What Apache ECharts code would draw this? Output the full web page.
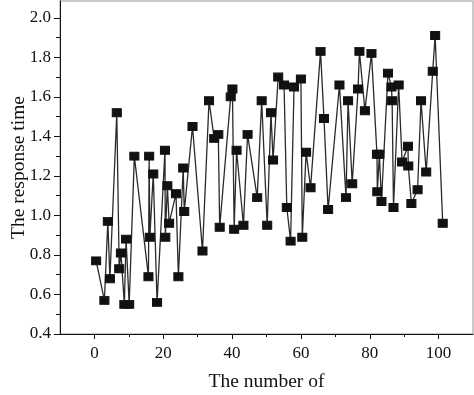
<!DOCTYPE html>
<html><head><meta charset="utf-8">
<script src="https://cdn.jsdelivr.net/npm/echarts@6/dist/echarts.min.js"></script>
<style>html,body{margin:0;padding:0;background:#fff}#c{width:474px;height:395px}</style>
</head><body><div id="c"></div>
<script>
const xPos = [0.5, 2.9, 3.9, 4.5, 6.5, 7.2, 7.7, 8.7, 9.2, 10.1,
  11.6, 15.7, 15.9, 16.1, 17.1, 18.2, 20.5, 20.6, 21.2, 21.7,
  23.7, 24.4, 25.8, 26.1, 28.5, 31.4, 33.3, 34.8, 36.0, 36.4,
  39.6, 40.1, 40.6, 41.3, 43.3, 44.5, 47.3, 48.6, 50.2, 51.3,
  51.9, 53.4, 55.1, 55.9, 57.0, 58.0, 60.0, 60.4, 61.5, 62.8,
  65.7, 66.7, 67.9, 71.2, 73.1, 73.7, 74.9, 76.6, 77.0, 78.6,
  80.5, 82.1, 82.2, 82.8, 83.4, 85.3, 86.3, 86.5, 86.9, 88.4,
  89.4, 91.1, 91.2, 92.1, 93.9, 94.9, 96.4, 98.3, 99.0, 101.2];
const respTime = [0.77, 0.57, 0.97, 0.68, 1.52, 0.73, 0.81, 0.55, 0.88, 0.55,
  1.30, 0.69, 1.30, 0.89, 1.21, 0.56, 1.33, 0.89, 1.15, 0.96,
  1.11, 0.69, 1.24, 1.02, 1.45, 0.82, 1.58, 1.39, 1.41, 0.94,
  1.60, 1.64, 0.93, 1.33, 0.95, 1.41, 1.09, 1.58, 0.95, 1.52,
  1.28, 1.70, 1.66, 1.04, 0.87, 1.65, 1.69, 0.89, 1.32, 1.14,
  1.83, 1.49, 1.03, 1.66, 1.09, 1.58, 1.16, 1.64, 1.83, 1.53,
  1.82, 1.31, 1.12, 1.31, 1.07, 1.72, 1.65, 1.58, 1.04, 1.66,
  1.27, 1.35, 1.25, 1.06, 1.13, 1.58, 1.22, 1.73, 1.91, 0.96];
const xMajorTicks = [0, 20, 40, 60, 80, 100];
const xMinorTicks = [10, 30, 50, 70, 90];
const yMajorTicks = [0.4, 0.6, 0.8, 1.0, 1.2, 1.4, 1.6, 1.8, 2.0];
const yMinorTicks = [0.5, 0.7, 0.9, 1.1, 1.3, 1.5, 1.7, 1.9];

const font = '"Liberation Serif", "DejaVu Serif", serif';
const chart = echarts.init(document.getElementById('c'), null, {renderer: 'canvas'});
const pts = xPos.map((x, i) => [x, respTime[i]]);
const X0 = -10, X1 = 110, Y0 = 0.4, Y1 = 2.085;
chart.setOption({
  animation: false,
  backgroundColor: '#fff',
  grid: {left: 60, right: 1, top: 1, bottom: 61, show: true, borderColor: '#b8b8b8', borderWidth: 1.5,
    containLabel: false, outerBoundsMode: 'none'},
  xAxis: [{
    type: 'value', min: X0, max: X1, position: 'bottom',
    name: 'The number of', nameLocation: 'middle', nameGap: 38,
    nameTextStyle: {fontFamily: font, fontSize: 19.5, color: '#111'},
    axisLine: {show: true, onZero: false, lineStyle: {color: '#111', width: 1}},
    axisTick: {show: true, inside: false, length: 5, customValues: xMajorTicks, lineStyle: {color: '#111'}},
    axisLabel: {customValues: xMajorTicks, fontFamily: font, fontSize: 17, color: '#111', margin: 11},
    splitLine: {show: false}
  }, {
    type: 'value', min: X0, max: X1, position: 'bottom',
    axisLine: {show: false, onZero: false},
    axisTick: {show: true, inside: false, length: 3, customValues: xMinorTicks, lineStyle: {color: '#111'}},
    axisLabel: {show: false},
    splitLine: {show: false}
  }],
  yAxis: [{
    type: 'value', min: Y0, max: Y1, position: 'left',
    name: 'The response time', nameLocation: 'middle', nameGap: 31, nameRotate: 90,
    nameMoveOverlap: false,
    nameTextStyle: {fontFamily: font, fontSize: 19.5, color: '#111'},
    axisLine: {show: true, onZero: false, lineStyle: {color: '#111', width: 1}},
    axisTick: {show: true, inside: false, length: 6, customValues: yMajorTicks, lineStyle: {color: '#111'}},
    axisLabel: {customValues: yMajorTicks, fontFamily: font, fontSize: 17, color: '#111', margin: 9,
      formatter: v => v.toFixed(1)},
    splitLine: {show: false}
  }, {
    type: 'value', min: Y0, max: Y1, position: 'left', offset: 0,
    axisLine: {show: false, onZero: false},
    axisTick: {show: true, inside: false, length: 4, customValues: yMinorTicks, lineStyle: {color: '#111'}},
    axisLabel: {show: false},
    splitLine: {show: false}
  }],
  series: [{
    type: 'line', xAxisIndex: 0, yAxisIndex: 0, data: pts,
    symbol: 'rect', symbolSize: [9, 8], showAllSymbol: true,
    itemStyle: {color: '#111', borderColor: '#111'},
    lineStyle: {color: '#2a2a2a', width: 1.3},
    z: 3
  }]
});
</script></body></html>
